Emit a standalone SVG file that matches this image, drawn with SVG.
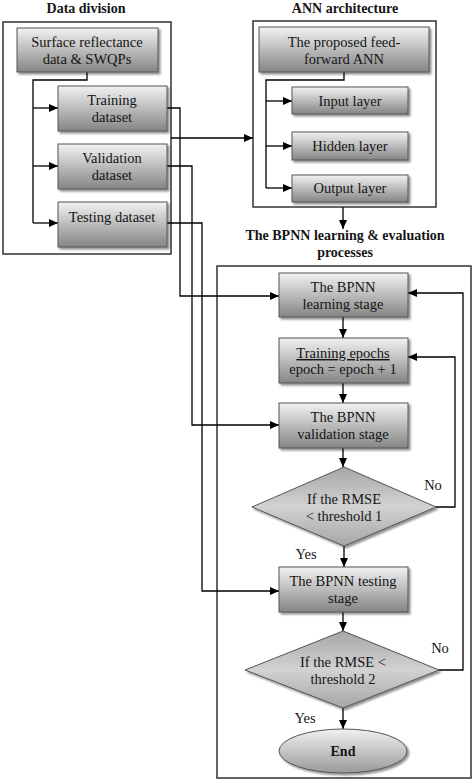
<svg xmlns="http://www.w3.org/2000/svg" width="474" height="781" viewBox="0 0 474 781">
<defs>
<linearGradient id="gBox" x1="0" y1="0" x2="0" y2="1">
<stop offset="0" stop-color="#f2f2f2"/>
<stop offset="1" stop-color="#858585"/>
</linearGradient>
<linearGradient id="gDia" x1="0" y1="0" x2="0" y2="1">
<stop offset="0" stop-color="#a6a6a6"/>
<stop offset="0.5" stop-color="#d2d2d2"/>
<stop offset="1" stop-color="#a6a6a6"/>
</linearGradient>
<linearGradient id="gEll" x1="0" y1="0" x2="0" y2="1">
<stop offset="0" stop-color="#f0f0f0"/>
<stop offset="1" stop-color="#9a9a9a"/>
</linearGradient>
<filter id="sh" x="-10%" y="-10%" width="130%" height="140%">
<feGaussianBlur in="SourceAlpha" stdDeviation="1.2"/>
<feOffset dx="2" dy="2" result="o"/>
<feComponentTransfer><feFuncA type="linear" slope="0.45"/></feComponentTransfer>
<feMerge><feMergeNode/><feMergeNode in="SourceGraphic"/></feMerge>
</filter>
<marker id="arr" markerUnits="userSpaceOnUse" markerWidth="10" markerHeight="8" refX="9" refY="4" orient="auto">
<path d="M0,0 L9,4 L0,8 Z" fill="#000"/>
</marker>
</defs>
<style>
.t{font-family:"Liberation Serif","Times New Roman",serif;font-size:14.5px;fill:#151515;text-anchor:middle}
.b{font-weight:bold;font-size:14px}
.frame{fill:#fff;stroke:#333;stroke-width:1.5}
.box{fill:url(#gBox);stroke:#555;stroke-width:1;filter:url(#sh)}
.dia{fill:url(#gDia);stroke:#555;stroke-width:1;filter:url(#sh)}
.ell{fill:url(#gEll);stroke:#555;stroke-width:1;filter:url(#sh)}
.c{fill:none;stroke:#000;stroke-width:1.3}
.a{marker-end:url(#arr)}
</style>
<rect width="474" height="781" fill="#fff"/>

<g id="titles">
<text class="t b" x="86" y="13">Data division</text>
<text class="t b" x="345" y="13">ANN architecture</text>
<text class="t b" x="345" y="240">The BPNN learning &amp; evaluation</text>
<text class="t b" x="345" y="257">processes</text>
</g>

<g id="frames">
<rect class="frame" x="3" y="22" width="168" height="232"/>
<rect class="frame" x="253" y="21" width="183" height="186"/>
<rect class="frame" x="217" y="266" width="254" height="512"/>
</g>

<g id="connectors">
<path class="c" d="M87 72 V80 H33 V223"/>
<path class="c a" d="M33 108 H58"/>
<path class="c a" d="M33 166 H58"/>
<path class="c a" d="M33 223 H58"/>
<path class="c a" d="M167 108 H180 V296 H279"/>
<path class="c a" d="M167 166 H192 V425 H279"/>
<path class="c a" d="M167 223 H202 V591 H279"/>
<path class="c a" d="M171 138 H253"/>
<path class="c" d="M344 72 V80 H266 V188"/>
<path class="c a" d="M266 101 H292"/>
<path class="c a" d="M266 146 H292"/>
<path class="c a" d="M266 188 H292"/>
<path class="c a" d="M343 207 V229"/>
<path class="c a" d="M343 317 V338"/>
<path class="c a" d="M343 383 V403"/>
<path class="c a" d="M343 448 V467"/>
<path class="c a" d="M344 546 V567"/>
<path class="c a" d="M343 612 V631"/>
<path class="c a" d="M343 708 V729"/>
<path class="c a" d="M436 507 H455 V357 H408"/>
<path class="c a" d="M439 670 H463 V293 H408"/>
</g>

<g id="labels">
<text class="t" x="433" y="490">No</text>
<text class="t" x="306" y="559">Yes</text>
<text class="t" x="440" y="653">No</text>
<text class="t" x="305" y="723">Yes</text>
</g>

<g id="surface">
<rect class="box" x="17" y="28" width="141" height="44"/>
<text class="t" x="87" y="47">Surface reflectance</text>
<text class="t" x="87" y="64">data &amp; SWQPs</text>
</g>
<g id="training">
<rect class="box" x="58" y="86" width="109" height="45"/>
<text class="t" x="112" y="105">Training</text>
<text class="t" x="112" y="122">dataset</text>
</g>
<g id="validation">
<rect class="box" x="58" y="144" width="109" height="45"/>
<text class="t" x="112" y="163">Validation</text>
<text class="t" x="112" y="180">dataset</text>
</g>
<g id="testing">
<rect class="box" x="58" y="202" width="109" height="45"/>
<text class="t" x="112" y="222">Testing dataset</text>
</g>

<g id="proposed">
<rect class="box" x="259" y="27" width="170" height="45"/>
<text class="t" x="344" y="47">The proposed feed-</text>
<text class="t" x="344" y="64">forward ANN</text>
</g>
<g id="input">
<rect class="box" x="292" y="87" width="116" height="27"/>
<text class="t" x="350" y="106">Input layer</text>
</g>
<g id="hidden">
<rect class="box" x="292" y="132" width="116" height="28"/>
<text class="t" x="350" y="151">Hidden layer</text>
</g>
<g id="output">
<rect class="box" x="292" y="175" width="116" height="27"/>
<text class="t" x="350" y="193">Output layer</text>
</g>

<g id="learning">
<rect class="box" x="279" y="273" width="129" height="44"/>
<text class="t" x="343" y="292">The BPNN</text>
<text class="t" x="343" y="309">learning stage</text>
</g>
<g id="epochs">
<rect class="box" x="279" y="338" width="129" height="45"/>
<text class="t" x="343" y="358" text-decoration="underline">Training epochs</text>
<text class="t" x="343" y="374">epoch = epoch + 1</text>
</g>
<g id="valstage">
<rect class="box" x="279" y="403" width="129" height="45"/>
<text class="t" x="343" y="422">The BPNN</text>
<text class="t" x="343" y="439">validation stage</text>
</g>
<g id="decision1">
<polygon class="dia" points="344,467 436,507 344,546 252,507"/>
<text class="t" x="344" y="504">If the RMSE</text>
<text class="t" x="344" y="521">&lt; threshold 1</text>
</g>
<g id="teststage">
<rect class="box" x="279" y="567" width="129" height="45"/>
<text class="t" x="343" y="586">The BPNN testing</text>
<text class="t" x="343" y="603">stage</text>
</g>
<g id="decision2">
<polygon class="dia" points="343,631 439,670 343,708 245,670"/>
<text class="t" x="343" y="667">If the RMSE &lt;</text>
<text class="t" x="343" y="684">threshold 2</text>
</g>
<g id="end">
<ellipse class="ell" cx="343" cy="751" rx="64" ry="22"/>
<text class="t b" x="343" y="756">End</text>
</g>
</svg>
